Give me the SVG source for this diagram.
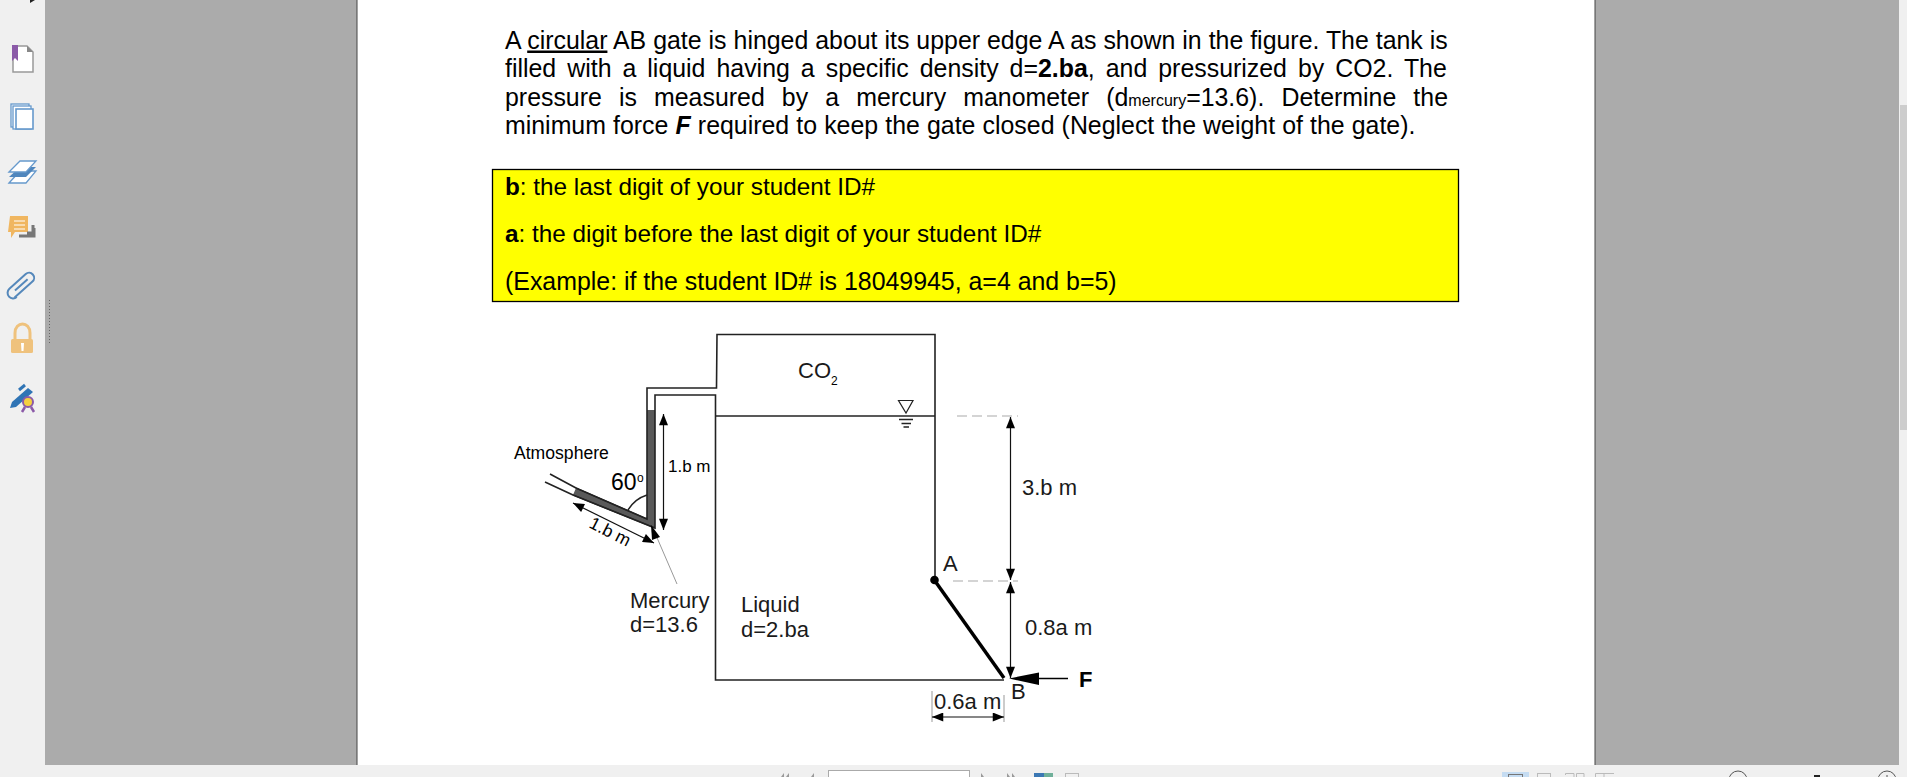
<svg xmlns="http://www.w3.org/2000/svg" width="1907" height="777" viewBox="0 0 1907 777">
<style>
text{font-family:"Liberation Sans",Arial,sans-serif;fill:#000}
.p{font-size:24.900px}
.n{font-size:24.300px}
.d{font-size:22px;fill:#1a1a1a}
.l{fill:none;stroke:#222;stroke-width:1.6}
.t{fill:none;stroke:#222;stroke-width:1.5}
.g{fill:none;stroke:#aaa;stroke-width:1.2;stroke-dasharray:10 5}
.a{fill:none;stroke:#111;stroke-width:1.2;marker-start:url(#ah);marker-end:url(#ah)}
</style>
<defs>
<marker id="ah" viewBox="0 0 10 8" refX="10" refY="4" markerUnits="userSpaceOnUse" markerWidth="12" markerHeight="9" orient="auto-start-reverse"><path d="M0 0L10 4L0 8Z" fill="#000"/></marker>
</defs>
<g id="viewer">
<rect width="1907" height="777" fill="#ababab"/>
<rect x="357" y="0" width="1238" height="765" fill="#fff"/>
<path d="M357 0V765M1595 0V765" stroke="#444" stroke-width="1" fill="none"/>
<rect x="0" y="0" width="45" height="777" fill="#f0f0f0"/>
<rect x="1899" y="0" width="8" height="777" fill="#f0f0f0"/>
<rect x="1900" y="105" width="7" height="325" fill="#cdcdcd"/>
<rect x="0" y="765" width="1907" height="12" fill="#f0f0f0"/>
<path d="M49.500 300V343" stroke="#666" stroke-width="1" stroke-dasharray="1 2"/>
<path d="M30 0H35L30 3Z" fill="#222"/>
<rect x="828.500" y="770.500" width="141" height="10" fill="#fff" stroke="#aaa"/>
<path d="M781 777l3-4v4zM786 777l3-4v4zM811 777l3-4v4zM981 773l3 4h-3zM1007 773l3 4h-3zM1012 773l3 4h-3z" fill="#999"/>
<rect x="1034" y="773" width="10" height="4" fill="#3c78b4"/><rect x="1044" y="773" width="9" height="4" fill="#6fb09a"/>
<rect x="1065.500" y="773.500" width="13" height="6" fill="none" stroke="#bbb"/>
<rect x="1502" y="772" width="27" height="5" fill="#c5dcf2"/>
<rect x="1508.500" y="774.500" width="14" height="6" fill="none" stroke="#777"/>
<rect x="1537.500" y="773.500" width="13" height="6" fill="none" stroke="#bbb"/>
<path d="M1565.500 775V773.500H1574V777M1576.500 777V773.500H1584V777M1595.500 773.500H1614M1595.500 777V773.500M1604 777V773.500" fill="none" stroke="#bbb"/>
<circle cx="1738" cy="780" r="9" fill="none" stroke="#555"/>
<circle cx="1887" cy="780" r="9" fill="none" stroke="#555"/>
<path d="M1887 775V777" stroke="#555"/>
<rect x="1814" y="775" width="6" height="2" fill="#222"/>
</g>
<g id="sidebar-icons">
<path d="M13 46H27L33 52V72H13Z" fill="#fff" stroke="#999" stroke-width="1.500"/>
<path d="M27 46L33 52H27Z" fill="#888"/>
<path d="M12 45H18V61L15 58L12 61Z" fill="#8b5aa8"/>
<g fill="#fff" stroke="#6699cc" stroke-width="1.300"><rect x="11" y="104" width="18" height="23"/><rect x="13" y="106" width="18" height="23"/><rect x="16" y="109" width="17" height="20" stroke-width="1.600"/></g>
<path d="M9 183L20 171H36L26 183Z" fill="#fff" stroke="#6699cc" stroke-width="1.300"/>
<path d="M9 177L20 167H36L26 177Z" fill="#4f86bd"/>
<path d="M9 172L20 161H36L26 172Z" fill="#fff" stroke="#6699cc" stroke-width="1.300"/>
<path d="M10 216H28V232H15L11 238V232H8Z" fill="#f0b660"/>
<path d="M14 221H25M14 225H25M14 229H25" stroke="#fff" stroke-width="1.200"/>
<path d="M27 233H33V225M19 236H34V228" fill="none" stroke="#777" stroke-width="3"/>
<g transform="translate(23 286) rotate(-42)" fill="none" stroke="#5588bb" stroke-width="2"><path d="M-14 3H10A5 5 0 0 0 10 -7H-12A5.500 5.500 0 0 0 -12 4M-9 -2H8"/></g>
<rect x="11" y="339" width="22" height="14" rx="1.500" fill="#efc27d"/>
<path d="M15 339V333C15 321 30 321 30 333V339" fill="none" stroke="#efc27d" stroke-width="3"/>
<path d="M21 343H24L23.500 351H21.500Z" fill="#fff"/>
<path d="M10 408L12 402L28 388L33 392L16 407Z" fill="#2f74b5"/>
<path d="M19 390L25 385" stroke="#2f74b5" stroke-width="3"/>
<circle cx="28" cy="402" r="5" fill="#f4d03f" stroke="#8b5aa8" stroke-width="2"/>
<path d="M25 407L22 412M31 407L34 412" stroke="#8b5aa8" stroke-width="2.500"/>
</g>
<g id="statement">
<text class="p" x="505" y="48.500" word-spacing="0.050">A <tspan text-decoration="underline">circular</tspan> AB gate is hinged about its upper edge A as shown in the figure. The tank is</text>
<text class="p" x="505" y="77" word-spacing="4.100">filled with a liquid having a specific density d=<tspan font-weight="bold">2.ba</tspan>, and pressurized by CO2. The</text>
<text class="p" x="505" y="106" word-spacing="10.200">pressure is measured by a mercury manometer (d<tspan font-size="16">mercury</tspan>=13.6). Determine the</text>
<text class="p" x="505" y="134" word-spacing="0.200">minimum force <tspan font-weight="bold" font-style="italic">F</tspan> required to keep the gate closed (Neglect the weight of the gate).</text>
</g>
<g id="note">
<rect x="492.500" y="169.500" width="966" height="132" fill="#ff0" stroke="#000" stroke-width="1.300"/>
<text class="n" x="505" y="195"><tspan font-weight="bold">b</tspan>: the last digit of your student ID#</text>
<text class="n" x="505" y="242"><tspan font-weight="bold">a</tspan>: the digit before the last digit of your student ID#</text>
<text class="p" x="505" y="290">(Example: if the student ID# is 18049945, a=4 and b=5)</text>
</g>
<g id="mercury">
<path d="M647 410H655V528L573 495L576 488L647 519Z" fill="#595959"/>
</g>
<g id="tank">
<path class="l" d="M550 474L576 488L647 519V388H716.500L717 334.500H935V580"/>
<path class="l" d="M545 482L573 495L655 528V395H715.500V680H1004"/>
<path class="l" d="M715.500 416H935"/>
<path d="M576 488L647 519M573 495L655 528" stroke="#222" stroke-width="1.300" fill="none"/>
</g>
<g id="gate">
<path d="M935 581L1004 678" stroke="#000" stroke-width="3.500" fill="none"/>
<circle cx="934.500" cy="580" r="4.300" fill="#000"/>
</g>
<g id="connectors">
<path class="t" d="M628 510A34 34 0 0 1 647 495"/>
<path class="a" d="M663.500 414V530"/>
<path class="a" d="M573 503L654 543"/>
<path d="M677 584L655 533" stroke="#999" stroke-width="1" fill="none"/>
<path d="M651 525L660 537L652 540Z" fill="#000"/>
<path class="g" d="M957 416H1018"/>
<path class="g" d="M953 581H1018"/>
<path class="a" d="M1010.500 417V580"/>
<path class="a" d="M1010.500 582V678"/>
<path d="M1068 678.500H1035" stroke="#000" stroke-width="1.500"/>
<path d="M1009 678.500L1039 672.500V685Z" fill="#000"/>
<path d="M932 691V722M1004 695V722" stroke="#999" stroke-width="1" fill="none"/>
<path class="a" d="M932 717H1004"/>
<path d="M898.500 400.500H913L906 413Z" fill="#fff" stroke="#222" stroke-width="1.200"/>
<path d="M899 419.500H913M901.500 423.500H911M903.500 427H909" stroke="#222" stroke-width="1.300"/>
</g>
<g id="labels">
<text x="514" y="459" font-size="17.600" fill="#1a1a1a">Atmosphere</text>
<text x="611" y="490" font-size="23" fill="#1a1a1a">60</text>
<text x="637" y="482" font-size="12" fill="#1a1a1a">o</text>
<text x="668" y="472" font-size="17" fill="#1a1a1a">1.b m</text>
<text transform="translate(588 527) rotate(27)" font-size="17.500" fill="#1a1a1a">1.b m</text>
<text x="798" y="378" class="d">CO</text>
<text x="831" y="385" font-size="12" fill="#333">2</text>
<text x="1022" y="495" class="d">3.b m</text>
<text x="943" y="571" class="d">A</text>
<text x="630" y="608" class="d">Mercury</text>
<text x="630" y="632" class="d">d=13.6</text>
<text x="741" y="612" class="d">Liquid</text>
<text x="741" y="637" class="d">d=2.ba</text>
<text x="1025" y="635" class="d">0.8a m</text>
<text x="1079" y="687" font-size="22" font-weight="bold">F</text>
<text x="1011" y="699" class="d">B</text>
<text x="934" y="709" class="d">0.6a m</text>
</g>
</svg>
